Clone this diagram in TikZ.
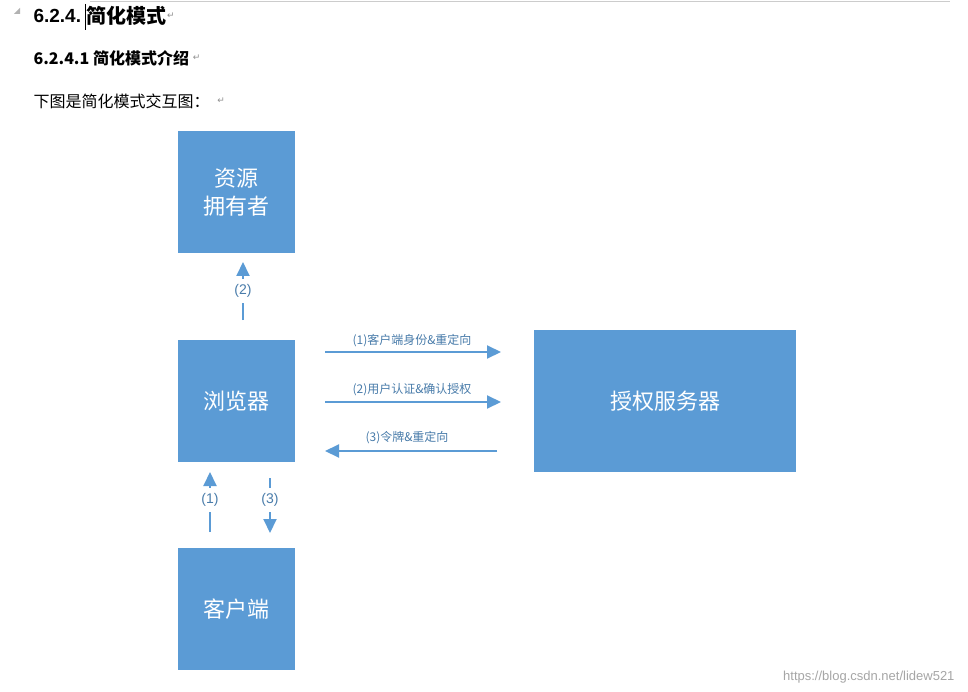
\documentclass[tikz,border=0pt]{standalone}
\usepackage{fontspec}
\setmainfont{Liberation Sans}
\newfontfamily\cjk{Noto Sans CJK SC}
\newfontfamily\symf{DejaVu Sans}
\usetikzlibrary{arrows.meta}
\definecolor{boxblue}{HTML}{5B9BD5}
\definecolor{markgray}{HTML}{909090}
\tikzset{
  blockbox/.style={fill=boxblue,text=white,font=\cjk\fontsize{22}{28}\selectfont,align=center,inner sep=0pt},
  flow/.style={boxblue,line width=2pt,-{Triangle[length=14pt,width=13pt]}},
  flowlabel/.style={text=boxblue!80!black,font=\cjk\fontsize{12}{14}\selectfont,inner sep=1pt},
  gaplabel/.style={flowlabel,fill=white,inner ysep=5pt,font=\fontsize{14}{16}\selectfont},
  retmark/.style={text=markgray,font=\symf\fontsize{9}{9}\selectfont,inner sep=0pt}
}
\begin{document}
\begin{tikzpicture}[x=1pt,y=-1pt]
\useasboundingbox[fill=white] (0,0) rectangle (968,692);
\draw[gray!40] (90,1) -- (950,1);
\fill[gray!60] (14,14) -- (20,8) -- (20,14) -- cycle;
% headings
\node[anchor=west,font=\bfseries\fontsize{19}{24}\selectfont] (h1num) at (30,16) {6.2.4.};
\node[anchor=west,font=\bfseries\cjk\fontsize{20}{24}\selectfont,inner sep=0pt] (h1) at ([xshift=2pt]h1num.east) {简化模式};
\draw[black] ([xshift=1pt]h1num.east |- 0,4) -- ([xshift=1pt]h1num.east |- 0,30);
\node[retmark,anchor=west] at (h1.east) {↵};
\node[anchor=west,font=\bfseries\cjk\fontsize{16}{20}\selectfont] (h2) at (30,58) {6.2.4.1 简化模式介绍};
\node[retmark,anchor=west] at (h2.east) {↵};
\node[anchor=west,font=\cjk\fontsize{16}{20}\selectfont] (h3) at (30,101) {下图是简化模式交互图：};
\node[retmark,anchor=west] at ([xshift=4pt]h3.east) {↵};
% boxes
\node[blockbox,minimum width=117pt,minimum height=122pt] (owner) at (236.5,192) {资源\\拥有者};
\node[blockbox,minimum width=117pt,minimum height=122pt] (browser) at (236.5,401) {浏览器};
\node[blockbox,minimum width=117pt,minimum height=122pt] (client) at (236.5,609) {客户端};
\node[blockbox,minimum width=262pt,minimum height=142pt] (auth) at (665,401) {授权服务器};
% vertical arrows
\draw[flow] (243,320) -- (243,262);
\node[gaplabel] at (243,291) {(2)};
\draw[flow] (210,532) -- (210,472);
\node[gaplabel] at (210,500) {(1)};
\draw[flow] (270,478) -- (270,533);
\node[gaplabel] at (270,500) {(3)};
% horizontal arrows
\draw[flow] (325,352) -- (501,352);
\node[flowlabel] at (412,341) {(1)客户端身份\&重定向};
\draw[flow] (325,402) -- (501,402);
\node[flowlabel] at (412,390) {(2)用户认证\&确认授权};
\draw[flow] (497,451) -- (325,451);
\node[flowlabel] at (407,438) {(3)令牌\&重定向};
\node[anchor=east,text=gray!70,font=\fontsize{13}{15}\selectfont] at (958,677) {https://blog.csdn.net/lidew521};
\end{tikzpicture}
\end{document}
